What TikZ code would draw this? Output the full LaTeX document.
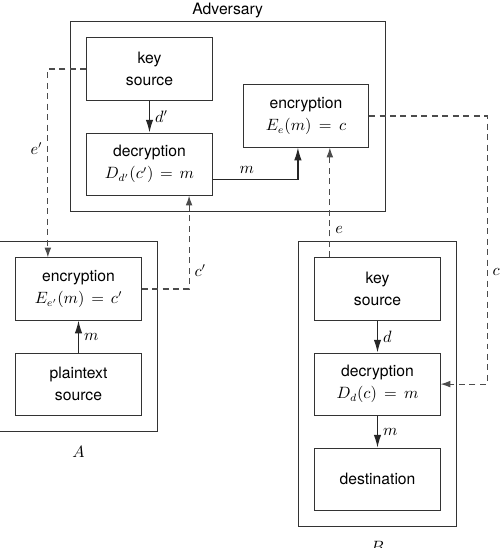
\documentclass[tikz,border=0pt]{standalone}
\usepackage{fontspec}
\setmainfont{TeX Gyre Heros}
\usetikzlibrary{arrows.meta,positioning,fit}
\tikzset{
    >={Latex[length=8.5pt,width=5pt]},
    punkt/.style={
           rectangle,
           draw=black!80, line width=0.7pt,
           minimum width=2.94cm,
           minimum height=1.46cm,
           text width=2.8cm,
           inner sep=0pt,
           align=center},
    rahmen/.style={
           rectangle,
           draw=black!80, line width=0.7pt,
           inner sep=0.376cm},
    pil/.style={
           ->,
           draw=black!85,
           line width=0.8pt},
    strichpil/.style={
           -{Latex[length=6.5pt,width=4.5pt]},
           draw=black!70,
           line width=0.7pt,
           dash pattern=on 4pt off 3pt}
}

\begin{document}
\begin{tikzpicture}[x=0.0235cm, y=-0.0235cm, node distance=0.75cm,
    every node/.style={font=\fontsize{10.5}{15}\selectfont}]
	\useasboundingbox (0,0) rectangle (500,548);
	% Adversary
	\node[punkt] (AdvKey) at (149.5,69) {key\\source};
	\node[punkt, below = of AdvKey] (AdvDec) {decryption\\$D_{d'}(c')=m$};
	\node[punkt] (AdvEnc) at (306,116) {encryption\\$E_e(m)=c$};
	\node[rahmen, fit=(AdvKey)(AdvDec)(AdvEnc)] (AdvBox) {};
	\node[above = 0pt of AdvBox, inner sep=1.5pt] {Adversary};
	% A
	\node[punkt] (AEnc) at (78.5,289) {encryption\\$E_{e'}(m)=c'$};
	\node[punkt, below = of AEnc] (APlain) {plaintext\\source};
	\node[rahmen, fit=(AEnc)(APlain)] (ABox) {};
	\node[below = 0.2cm of ABox] {$A$};
	% B
	\node[punkt] (BKey) at (377.5,289) {key\\source};
	\node[punkt, below = of BKey] (BDec) {decryption\\$D_d(c)=m$};
	\node[punkt, below = of BDec] (BDest) {destination};
	\node[rahmen, fit=(BKey)(BDec)(BDest)] (BBox) {};
	\node[below = 0.2cm of BBox] {$B$};
	% solid arrows
	\draw[pil] (AdvKey) -- node[right]{$d'$} (AdvDec);
	\draw[pil] ([yshift=-0.36cm]AdvDec.east) -| node[pos=0.2, above]{$m$} ([xshift=-0.19cm]AdvEnc.south);
	\draw[pil] (APlain) -- node[right]{$m$} (AEnc);
	\draw[pil] (BKey) -- node[right]{$d$} (BDec);
	\draw[pil] (BDec) -- node[right]{$m$} (BDest);
	% dashed key and cipher lines
	\draw[strichpil] (AdvKey.west) -| node[pos=0.71, left]{$e'$} ([xshift=-0.72cm]AEnc.north);
	\draw[strichpil] (AEnc.east) -| node[pos=0.6, right]{$c'$} ([xshift=0.93cm]AdvDec.south);
	\draw[strichpil] ([xshift=-1.12cm]BKey.north) -- node[pos=0.25, right]{$e$} ([xshift=-1.12cm]BKey.north |- AdvEnc.south);
	\draw[strichpil] (AdvEnc.east) -- ++(118,0) |- node[pos=0.29, right]{$c$} (BDec.east);
\end{tikzpicture}
\end{document}
